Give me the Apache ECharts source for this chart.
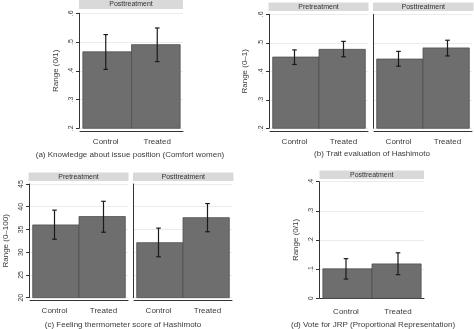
<!DOCTYPE html>
<html>
<head>
<meta charset="utf-8">
<script src="https://cdn.jsdelivr.net/npm/echarts@6/dist/echarts.min.js"></script>
<style>
  html, body { margin: 0; padding: 0; background: #fff; }
  #chart { width: 474px; height: 329px; }
</style>
</head>
<body>
<div id="chart"></div>
<script>
// Treatment groups shown on every x axis
const groups = ['Control', 'Treated'];

// (a) Knowledge about issue position (Comfort women), posttreatment
const knowMean = [0.466, 0.491];
const knowLow  = [0.405, 0.432];
const knowHigh = [0.526, 0.549];

// (b) Trait evaluation of Hashimoto
const traitPreMean  = [0.450, 0.477];
const traitPreLow   = [0.424, 0.451];
const traitPreHigh  = [0.475, 0.505];
const traitPostMean = [0.443, 0.482];
const traitPostLow  = [0.418, 0.454];
const traitPostHigh = [0.470, 0.509];

// (c) Feeling thermometer score of Hashimoto
const thermoPreMean  = [36.0, 37.85];
const thermoPreLow   = [32.85, 34.4];
const thermoPreHigh  = [39.25, 41.2];
const thermoPostMean = [32.1, 37.6];
const thermoPostLow  = [29.0, 34.5];
const thermoPostHigh = [35.3, 40.7];

// (d) Vote for JRP (Proportional Representation), posttreatment
const voteMean = [0.101, 0.118];
const voteLow  = [0.066, 0.081];
const voteHigh = [0.136, 0.156];

// Panel titles and strip labels
const captions = [
  '(a) Knowledge about issue position (Comfort women)',
  '(b) Trait evaluation of Hashimoto',
  '(c) Feeling thermometer score of Hashimoto',
  '(d) Vote for JRP (Proportional Representation)'
];
const stripLabels = ['Pretreatment', 'Posttreatment'];
const yTitles = ['Range (0/1)', 'Range (0\u20131)', 'Range (0\u2013100)', 'Range (0/1)'];

const FONT = 'Liberation Sans, Arial, sans-serif';
const TEXT = '#3a3a3a';
const BAR_FILL = '#6e6e6e';
const BAR_EDGE = '#505050';

function tickFmt(v) {
  if (Math.abs(v) < 1e-9) return '0';
  return v.toFixed(1).replace(/^0/, '');
}

// Panel layout: grid box plus y-axis scale
const panels = [
  { grid: { left: 80, top: 13.3, width: 103, height: 115 }, min: 0.2, max: 0.6, interval: 0.1, fmt: tickFmt, labels: true, title: yTitles[0], nameGap: 19,
    mean: knowMean, low: knowLow, high: knowHigh },
  { grid: { left: 270, top: 14.3, width: 98, height: 114 }, min: 0.2, max: 0.6, interval: 0.1, fmt: tickFmt, labels: true, title: yTitles[1], nameGap: 20,
    mean: traitPreMean, low: traitPreLow, high: traitPreHigh },
  { grid: { left: 374, top: 14.3, width: 98, height: 114 }, min: 0.2, max: 0.6, interval: 0.1, fmt: tickFmt, labels: false,
    mean: traitPostMean, low: traitPostLow, high: traitPostHigh },
  { grid: { left: 30, top: 184, width: 98, height: 113.7 }, min: 20, max: 45, interval: 5, fmt: v => String(v), labels: true, title: yTitles[2], nameGap: 19,
    mean: thermoPreMean, low: thermoPreLow, high: thermoPreHigh },
  { grid: { left: 134, top: 184, width: 98, height: 113.7 }, min: 20, max: 45, interval: 5, fmt: v => String(v), labels: false,
    mean: thermoPostMean, low: thermoPostLow, high: thermoPostHigh },
  { grid: { left: 320, top: 181.7, width: 104, height: 116.6 }, min: 0, max: 0.4, interval: 0.1, fmt: tickFmt, labels: true, title: yTitles[3], nameGap: 19,
    mean: voteMean, low: voteLow, high: voteHigh }
];

// Grey strips above each panel
const strips = [
  { x: 79, y: 0, w: 104, h: 9, text: stripLabels[1] },
  { x: 268.5, y: 2.5, w: 100, h: 8.5, text: stripLabels[0] },
  { x: 373, y: 2.5, w: 100.5, h: 8.5, text: stripLabels[1] },
  { x: 28.5, y: 172.5, w: 100, h: 8.5, text: stripLabels[0] },
  { x: 133, y: 172.5, w: 100.5, h: 8.5, text: stripLabels[1] },
  { x: 319.5, y: 170.5, w: 104.5, h: 8.5, text: stripLabels[1] }
];

const captionPos = [
  { x: 130, y: 155 }, { x: 372, y: 154 }, { x: 123, y: 325 }, { x: 373, y: 325 }
];

const grids = [], xAxes = [], yAxes = [], series = [];

panels.forEach((p, i) => {
  grids.push(p.grid);
  xAxes.push({
    type: 'category', gridIndex: i, data: groups, boundaryGap: true, offset: 3,
    axisLine: { lineStyle: { color: '#333', width: 1 } },
    axisTick: { alignWithLabel: true, length: 3, lineStyle: { color: '#333' } },
    axisLabel: { color: TEXT, fontSize: 8, fontFamily: FONT, margin: 6 },
    splitLine: { show: false }
  });
  yAxes.push({
    type: 'value', gridIndex: i, min: p.min, max: p.max, interval: p.interval, offset: 1,
    name: p.title || '', nameLocation: 'middle', nameGap: p.nameGap || 0, nameRotate: 90,
    nameTextStyle: { color: TEXT, fontSize: 8, fontFamily: FONT },
    axisLine: { show: true, lineStyle: { color: '#333', width: 1 } },
    axisTick: { show: p.labels, length: 3, lineStyle: { color: '#333' } },
    axisLabel: { show: p.labels, rotate: 90, color: TEXT, fontSize: 7, fontFamily: FONT, margin: 4, formatter: p.fmt },
    splitLine: { show: true, lineStyle: { color: '#ebebeb', width: 1 } }
  });

  const base = p.min;
  series.push({
    type: 'custom', xAxisIndex: i, yAxisIndex: i,
    data: groups.map((g, k) => [k, p.mean[k]]),
    encode: { x: 0, y: 1 },
    renderItem: function (params, api) {
      const idx = api.value(0);
      const top = api.coord([idx, api.value(1)]);
      const bot = api.coord([idx, base]);
      const band = api.size([1, 0])[0];
      const edge = band * 0.055;
      let x0 = top[0] - band / 2, x1 = top[0] + band / 2;
      if (idx === 0) x0 += edge; else x1 -= edge;
      return {
        type: 'rect',
        shape: { x: x0, y: top[1], width: x1 - x0, height: bot[1] - top[1] },
        style: { fill: BAR_FILL, stroke: BAR_EDGE, lineWidth: 0.8 }
      };
    },
    z: 2
  });
  series.push({
    type: 'custom', xAxisIndex: i, yAxisIndex: i,
    data: groups.map((g, k) => [k, p.low[k], p.high[k]]),
    encode: { x: 0, y: [1, 2] },
    renderItem: function (params, api) {
      const idx = api.value(0);
      const lo = api.coord([idx, api.value(1)]);
      const hi = api.coord([idx, api.value(2)]);
      const cap = 2.3;
      const st = { stroke: '#1a1a1a', lineWidth: 1.2 };
      return {
        type: 'group',
        children: [
          { type: 'line', shape: { x1: lo[0], y1: lo[1], x2: hi[0], y2: hi[1] }, style: st },
          { type: 'line', shape: { x1: hi[0] - cap, y1: hi[1], x2: hi[0] + cap, y2: hi[1] }, style: st },
          { type: 'line', shape: { x1: lo[0] - cap, y1: lo[1], x2: lo[0] + cap, y2: lo[1] }, style: st }
        ]
      };
    },
    z: 3
  });
});

const graphics = [];
strips.forEach(s => {
  graphics.push({
    type: 'rect', shape: { x: s.x, y: s.y, width: s.w, height: s.h },
    style: { fill: '#d9d9d9' }, silent: true
  });
  graphics.push({
    type: 'text', x: s.x + s.w / 2, y: s.y + s.h / 2,
    style: { text: s.text, fill: '#333', fontSize: 7, fontFamily: FONT, align: 'center', verticalAlign: 'middle' },
    silent: true
  });
});
captions.forEach((c, i) => {
  graphics.push({
    type: 'text', x: captionPos[i].x, y: captionPos[i].y,
    style: { text: c, fill: TEXT, fontSize: 8, fontFamily: FONT, align: 'center', verticalAlign: 'middle' },
    silent: true
  });
});

const chart = echarts.init(document.getElementById('chart'), null, { renderer: 'canvas' });
chart.setOption({
  animation: false,
  backgroundColor: '#ffffff',
  grid: grids,
  xAxis: xAxes,
  yAxis: yAxes,
  series: series,
  graphic: graphics
});
</script>
</body>
</html>
